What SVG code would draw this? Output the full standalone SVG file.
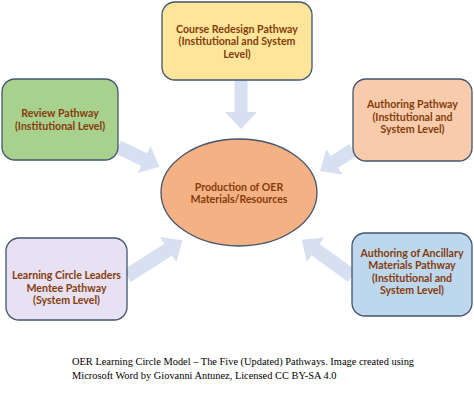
<svg xmlns="http://www.w3.org/2000/svg" width="474" height="405" viewBox="0 0 474 405">
<style>
.box{stroke:#42546e;stroke-width:1.3}
.lbl{font-family:Lato,"Liberation Sans",sans-serif;font-weight:bold;font-size:10.6px;fill:#843c0c;text-anchor:middle}
.arr{fill:#d6e0f1}
.cap{font-family:"Liberation Serif",serif;font-size:10.4px;fill:#000}
</style>
<rect width="474" height="405" fill="#fff"/>
<g id="connectors">
<path class="arr" transform="translate(241,80) rotate(90)" d="M0,-6.5 H32 V-16 L49,0 L32,16 V6.5 H0 Z"/>
<path class="arr" transform="translate(118,147) rotate(25.5)" d="M0,-7 H29 V-15 L46,0 L29,15 V7 H0 Z"/>
<path class="arr" transform="translate(353,150) rotate(147.5)" d="M0,-7 H22 V-15 L39,0 L22,15 V7 H0 Z"/>
<path class="arr" transform="translate(127,276) rotate(-32.7)" d="M0,-7 H49 V-15 L66,0 L49,15 V7 H0 Z"/>
<path class="arr" transform="translate(352,276) rotate(-144.2)" d="M0,-7 H45 V-15 L62,0 L45,15 V7 H0 Z"/>
</g>
<g id="course">
<rect class="box" x="162" y="2" width="150" height="78" rx="13" fill="#fee599"/>
<text class="lbl"><tspan x="237" y="32.5">Course Redesign Pathway</tspan><tspan x="237" y="45">(Institutional and System</tspan><tspan x="237" y="57.5">Level)</tspan></text>
</g>
<g id="review">
<rect class="box" x="2" y="79" width="116" height="81" rx="13" fill="#a9d18e"/>
<text class="lbl"><tspan x="60" y="117">Review Pathway</tspan><tspan x="60" y="129.5">(Institutional Level)</tspan></text>
</g>
<g id="authoring">
<rect class="box" x="353" y="79" width="119" height="82" rx="13" fill="#f8cbad"/>
<text class="lbl"><tspan x="412.5" y="108">Authoring Pathway</tspan><tspan x="412.5" y="120.5">(Institutional and</tspan><tspan x="412.5" y="133">System Level)</tspan></text>
</g>
<g id="production">
<ellipse class="box" cx="239" cy="192.5" rx="78" ry="53.5" fill="#f4b183"/>
<text class="lbl"><tspan x="239" y="190.5">Production of OER</tspan><tspan x="239" y="203">Materials/Resources</tspan></text>
</g>
<g id="learning">
<rect class="box" x="6" y="238" width="121" height="82" rx="13" fill="#e8e1f3"/>
<text class="lbl"><tspan x="66.5" y="279">Learning Circle Leaders</tspan><tspan x="66.5" y="291.5">Mentee Pathway</tspan><tspan x="66.5" y="304">(System Level)</tspan></text>
</g>
<g id="ancillary">
<rect class="box" x="352" y="233" width="120" height="83" rx="13" fill="#bdd7ee"/>
<text class="lbl"><tspan x="412" y="256.5">Authoring of Ancillary</tspan><tspan x="412" y="269">Materials Pathway</tspan><tspan x="412" y="281.5">(Institutional and</tspan><tspan x="412" y="294">System Level)</tspan></text>
</g>
<g id="caption">
<text class="cap"><tspan x="72" y="365">OER Learning Circle Model – The Five (Updated) Pathways. Image created using</tspan><tspan x="72" y="379">Microsoft Word by Giovanni Antunez, Licensed CC BY-SA 4.0</tspan></text>
</g>
</svg>
